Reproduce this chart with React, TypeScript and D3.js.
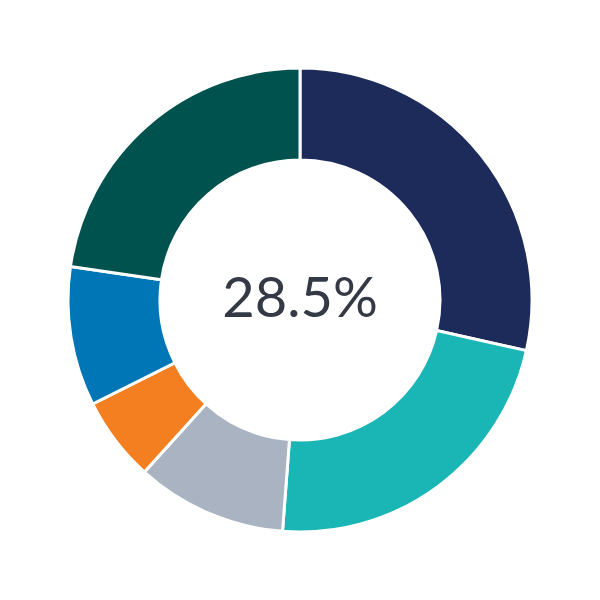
import React from "react";
import * as d3 from "d3";

const categories = ["A", "B", "C", "D", "E", "F"];
const values = [28.5, 22.7, 10.5, 5.9, 9.7, 22.7];
const colors = ["#1c2b5a", "#1ab5b5", "#a9b3c1", "#f47f20", "#0076b6", "#00524f"];
const centerLabel = "28.5%";

export default function App() {
  const width = 600;
  const height = 600;
  const cx = 300;
  const cy = 300;
  const pie = d3.pie<number>().sort(null).value((d) => d);
  const arcs = pie(values);
  const arc = d3.arc<d3.PieArcDatum<number>>().innerRadius(140).outerRadius(232);
  return (
    <svg
      width={width}
      height={height}
      style={{ position: "fixed", left: 0, top: 0, background: "#fff" }}
    >
      <g transform={`translate(${cx},${cy})`}>
        {arcs.map((a, i) => (
          <path
            key={categories[i]}
            d={arc(a) || ""}
            fill={colors[i]}
            stroke="#ffffff"
            strokeWidth={3}
          />
        ))}
        <text
          x={0}
          y={-3}
          dy="0.35em"
          textAnchor="middle"
          fontFamily="Lato, sans-serif"
          fontSize={56}
          fill="#343a45"
        >
          {centerLabel}
        </text>
      </g>
    </svg>
  );
}
